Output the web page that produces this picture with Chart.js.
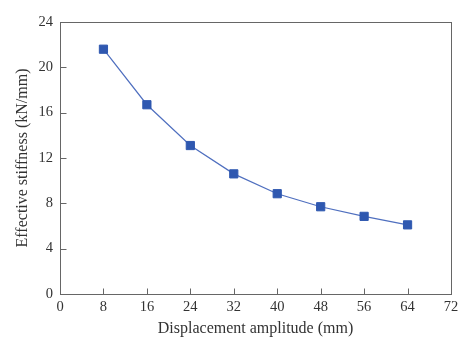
<!DOCTYPE html>
<html>
<head>
<meta charset="utf-8">
<script src="https://cdn.jsdelivr.net/npm/chart.js@4"></script>
<style>
html,body{margin:0;padding:0;background:#fff;}
#wrap{width:474px;height:355px;}
</style>
</head>
<body>
<div id="wrap"><canvas id="c" width="474" height="355"></canvas></div>
<script>
const displacement = [8, 16, 24, 32, 40, 48, 56, 64];
const stiffness = [21.6, 16.7, 13.1, 10.6, 8.85, 7.7, 6.85, 6.1];
const xTitle = 'Displacement amplitude (mm)';
const yTitle = 'Effective stiffness (kN/mm)';

const frame = {
  id: 'frame',
  afterDraw(chart) {
    const {ctx, chartArea: a} = chart;
    const L = Math.round(a.left) + 0.5, R = Math.round(a.right) + 0.5;
    const T = Math.round(a.top) + 0.5, B = Math.round(a.bottom) + 0.5;
    ctx.save();
    ctx.strokeStyle = '#666';
    ctx.lineWidth = 1;
    ctx.strokeRect(L, T, R - L, B - T);
    ctx.beginPath();
    const xs = chart.scales.x, ys = chart.scales.y;
    xs.ticks.forEach(t => {
      const px = Math.round(xs.getPixelForValue(t.value)) + 0.5;
      ctx.moveTo(px, B); ctx.lineTo(px, B - 6);
    });
    ys.ticks.forEach(t => {
      const py = Math.round(ys.getPixelForValue(t.value)) + 0.5;
      ctx.moveTo(L, py); ctx.lineTo(L + 6, py);
    });
    ctx.stroke();
    ctx.restore();
  }
};

const fontFam = '"Liberation Serif", "Times New Roman", serif';

new Chart(document.getElementById('c'), {
  type: 'line',
  data: {
    datasets: [{
      data: displacement.map((x, i) => ({x, y: stiffness[i]})),
      borderColor: '#4f6fbf',
      borderWidth: 1.2,
      backgroundColor: '#2f58b0',
      pointBackgroundColor: '#2f58b0',
      pointBorderColor: '#2f58b0',
      pointBorderWidth: 1,
      pointStyle: 'rect',
      pointRadius: 5.8,
      tension: 0
    }]
  },
  options: {
    responsive: false,
    animation: false,
    devicePixelRatio: 1,
    layout: {padding: {left: 0, right: 23, top: 22, bottom: 0}},
    plugins: {legend: {display: false}, tooltip: {enabled: false}},
    scales: {
      x: {
        type: 'linear',
        min: 0, max: 72,
        afterFit(s) { s.height = 61; },
        ticks: {stepSize: 8, color: '#333', padding: 4, font: {family: fontFam, size: 14.5}},
        grid: {drawOnChartArea: false, drawTicks: false, tickLength: 0, color: '#666'},
        border: {display: true, color: '#666', width: 1},
        title: {display: true, text: xTitle, color: '#333', font: {family: fontFam, size: 16}, padding: {top: 0, bottom: 17}}
      },
      y: {
        type: 'linear',
        min: 0, max: 24,
        afterFit(s) { s.width = 60; },
        ticks: {stepSize: 4, color: '#333', padding: 7, font: {family: fontFam, size: 14.5}},
        grid: {drawOnChartArea: false, drawTicks: false, tickLength: 0, color: '#666'},
        border: {display: true, color: '#666', width: 1},
        title: {display: true, text: yTitle, color: '#333', font: {family: fontFam, size: 16}, padding: {top: 13.5, bottom: 0}}
      }
    }
  },
  plugins: [frame]
});
</script>
</body>
</html>
